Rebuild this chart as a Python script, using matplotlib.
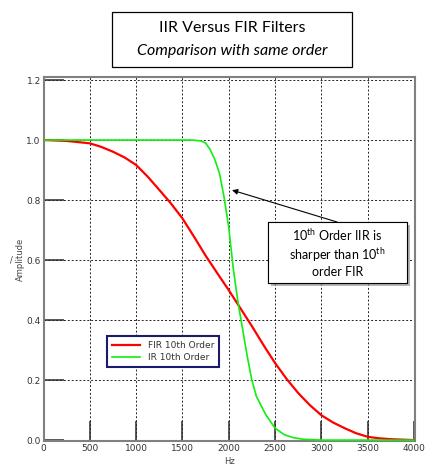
import matplotlib
matplotlib.use("Agg")
import matplotlib.pyplot as plt
from matplotlib.patches import Rectangle
from matplotlib import patheffects

plt.rcParams['mathtext.fontset'] = 'custom'
plt.rcParams['mathtext.rm'] = 'Lato'

# values
freq_fir = [0, 250, 500, 625, 750, 875, 1000, 1125, 1250, 1375, 1500, 1625,
            1750, 1875, 2000, 2125, 2250, 2375, 2500, 2625, 2750, 2875, 3000,
            3125, 3250, 3375, 3500, 3625, 3750, 4000]
amp_fir = [1.0, 0.997, 0.989, 0.977, 0.961, 0.942, 0.917, 0.878, 0.834, 0.789,
           0.739, 0.678, 0.615, 0.557, 0.50, 0.44, 0.38, 0.317, 0.257, 0.204,
           0.157, 0.117, 0.083, 0.059, 0.04, 0.023, 0.011, 0.006, 0.003, 0.0]

freq_iir = [0, 500, 1000, 1500, 1600, 1700, 1750, 1800, 1850, 1900, 1950,
            2000, 2050, 2100, 2150, 2200, 2250, 2300, 2400, 2500, 2600,
            2700, 2800, 3000, 4000]
amp_iir = [1.0, 1.0, 1.0, 1.0, 1.0, 0.997, 0.99, 0.968, 0.935, 0.89, 0.81,
           0.71, 0.57, 0.46, 0.37, 0.28, 0.2, 0.145, 0.085, 0.04, 0.018,
           0.008, 0.003, 0.0, 0.0]

x_ticks = [0, 500, 1000, 1500, 2000, 2500, 3000, 3500, 4000]
y_ticks = [0.0, 0.2, 0.4, 0.6, 0.8, 1.0, 1.2]

W, H = 433, 467


def fx(px):
    return px / W


def fy(py):
    return 1 - py / H


fig = plt.figure(figsize=(4.33, 4.67), dpi=100)
ax = fig.add_axes([fx(43.5), fy(441), fx(415) - fx(43.5), fy(77) - fy(441)])

ax.plot(freq_fir, amp_fir, color='#ff0000', lw=1.6, label='FIR 10th Order', zorder=3)
ax.plot(freq_iir, amp_iir, color='#11ee11', lw=1.2, label='IR 10th Order', zorder=3)

ax.set_xlim(0, 4012)
ax.set_ylim(-0.003, 1.21)
ax.set_xticks(x_ticks)
ax.set_yticks(y_ticks)
ax.set_yticklabels([f'{v:.1f}' for v in y_ticks])
ax.grid(True, color='#222222', linestyle=(0, (2, 2)), linewidth=0.7)
ax.tick_params(direction='in', length=14.4, width=1.1, color='#2a2a2a',
               labelsize=6.5, labelcolor='#333333', pad=2)
for s in ax.spines.values():
    s.set_color('#808080')
    s.set_linewidth(1.5)

ax.set_xlabel('Hz', fontsize=6, color='#444444', labelpad=3)
ax.set_ylabel('Amplitude', fontsize=6, color='#444444', labelpad=1)
fig.text(fx(11), fy(260), '/', fontsize=6, color='#444444', ha='center', va='center')

leg = ax.legend(loc='upper left', bbox_to_anchor=(0.171, 0.288), borderaxespad=0,
                fontsize=6.5, fancybox=False, framealpha=1, handlelength=3.2,
                labelspacing=0.4, borderpad=0.5)
leg.get_frame().set_edgecolor('#1a1a6e')
leg.get_frame().set_linewidth(1.5)
for t in leg.get_texts():
    t.set_color('#333333')

# title box
fig.patches.append(Rectangle((fx(112), fy(67)), fx(352) - fx(112), fy(12) - fy(67),
                             transform=fig.transFigure, facecolor='white',
                             edgecolor='black', lw=0.9))
fig.text(fx(232), fy(28), 'IIR Versus FIR Filters', fontsize=11.5, family='Lato',
         ha='center', va='center')
fig.text(fx(232), fy(51), 'Comparison with same order', fontsize=11.5, family='Lato',
         style='italic', ha='center', va='center')

# annotation box with shadow
box = Rectangle((fx(268), fy(283)), fx(407) - fx(268), fy(222) - fy(283),
                transform=fig.transFigure, facecolor='white', edgecolor='black',
                lw=0.8, zorder=5)
box.set_path_effects([patheffects.withSimplePatchShadow(offset=(2.5, -2.5),
                                                        shadow_rgbFace='#999999',
                                                        alpha=0.7),
                      patheffects.Normal()])
fig.patches.append(box)
note = '10$^{\\rm th}$ Order IIR is\nsharper than 10$^{\\rm th}$\norder FIR'
fig.text(fx(337.5), fy(252.5), note, fontsize=9, family='Lato', ha='center',
         va='center', linespacing=1.25, zorder=6)

ax.annotate('', xy=(2036, 0.833), xycoords='data',
            xytext=(fx(337), fy(222)), textcoords='figure fraction',
            arrowprops=dict(arrowstyle='-|>', color='black', lw=0.8,
                            mutation_scale=8, shrinkA=0, shrinkB=0),
            zorder=4)

fig.savefig('out.png', dpi=100)
